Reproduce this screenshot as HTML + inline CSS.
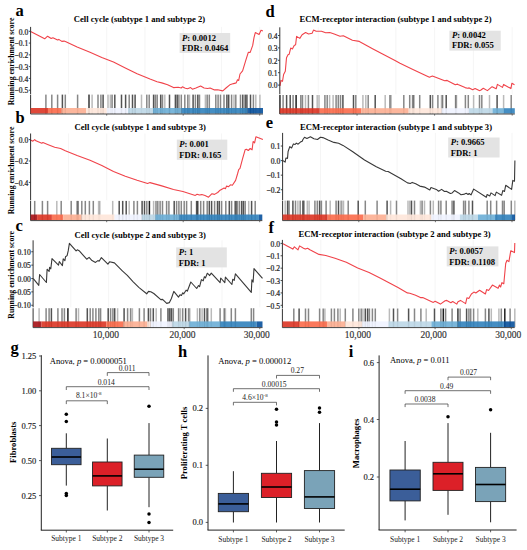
<!DOCTYPE html>
<html><head><meta charset="utf-8"><style>
html,body{margin:0;padding:0;background:#fff;}
svg{display:block;font-family:"Liberation Serif", serif;}
</style></head><body>
<svg width="527" height="550" viewBox="0 0 527 550">
<rect width="527" height="550" fill="#fff"/>
<text x="15.50" y="16.30" font-size="16.5" font-weight="bold" text-anchor="start" fill="#000">a</text>
<text x="139.50" y="21.60" font-size="8.6" font-weight="bold" text-anchor="middle" fill="#000">Cell cycle (subtype 1 and subtype 2)</text>
<line x1="68.45" y1="26.90" x2="68.45" y2="94.00" stroke="#EBEBEB" stroke-width="0.5"/>
<line x1="106.70" y1="26.90" x2="106.70" y2="94.00" stroke="#EBEBEB" stroke-width="0.5"/>
<line x1="144.95" y1="26.90" x2="144.95" y2="94.00" stroke="#EBEBEB" stroke-width="0.5"/>
<line x1="183.20" y1="26.90" x2="183.20" y2="94.00" stroke="#EBEBEB" stroke-width="0.5"/>
<line x1="221.45" y1="26.90" x2="221.45" y2="94.00" stroke="#EBEBEB" stroke-width="0.5"/>
<line x1="259.70" y1="26.90" x2="259.70" y2="94.00" stroke="#EBEBEB" stroke-width="0.5"/>
<rect x="179.60" y="33.00" width="50.60" height="19.90" fill="#E3E3E3"/>
<text x="182.10" y="40.90" font-size="8.6" font-weight="bold" text-anchor="start" fill="#000"><tspan font-style="italic">P</tspan>: 0.0012</text>
<text x="182.10" y="51.00" font-size="8.6" font-weight="bold" text-anchor="start" fill="#000">FDR: 0.0464</text>
<polyline points="30.60,31.50 44.70,38.80 47.60,36.20 51.20,38.50 52.90,37.80 57.60,39.90 58.80,39.40 61.80,41.40 64.10,41.10 65.90,41.70 77.10,47.00 90.00,52.30 101.80,57.40 113.50,62.10 125.30,67.90 137.10,73.80 150.00,79.10 157.10,81.80 161.80,82.90 167.60,84.70 173.50,87.60 178.20,87.30 181.20,88.00 182.40,86.80 185.30,88.20 187.60,88.80 190.60,87.60 192.40,89.20 195.90,88.00 200.60,86.10 204.10,88.00 207.60,88.50 210.10,88.00 214.50,89.90 217.70,89.70 222.80,90.90 226.00,88.00 229.80,84.80 233.60,83.60 236.20,82.90 237.50,79.70 238.70,80.40 240.00,74.00 242.60,70.80 245.70,60.60 248.30,52.40 250.20,52.40 252.70,45.40 254.00,37.70 255.30,32.60 259.10,34.50 261.00,30.30 262.90,31.10" fill="none" stroke="#F0434A" stroke-width="1.1" stroke-linejoin="round"/>
<line x1="30.60" y1="26.90" x2="30.60" y2="94.00" stroke="#333" stroke-width="1"/>
<line x1="30.60" y1="94.60" x2="30.60" y2="114.00" stroke="#333" stroke-width="1"/>
<line x1="28.80" y1="31.30" x2="30.60" y2="31.30" stroke="#333" stroke-width="0.9"/>
<text x="28.30" y="34.50" font-size="7.6" text-anchor="end" fill="#262626" stroke="#262626" stroke-width="0.22">0.0</text>
<line x1="28.80" y1="43.08" x2="30.60" y2="43.08" stroke="#333" stroke-width="0.9"/>
<text x="28.30" y="46.28" font-size="7.6" text-anchor="end" fill="#262626" stroke="#262626" stroke-width="0.22">−0.1</text>
<line x1="28.80" y1="54.86" x2="30.60" y2="54.86" stroke="#333" stroke-width="0.9"/>
<text x="28.30" y="58.06" font-size="7.6" text-anchor="end" fill="#262626" stroke="#262626" stroke-width="0.22">−0.2</text>
<line x1="28.80" y1="66.64" x2="30.60" y2="66.64" stroke="#333" stroke-width="0.9"/>
<text x="28.30" y="69.84" font-size="7.6" text-anchor="end" fill="#262626" stroke="#262626" stroke-width="0.22">−0.3</text>
<line x1="28.80" y1="78.42" x2="30.60" y2="78.42" stroke="#333" stroke-width="0.9"/>
<text x="28.30" y="81.62" font-size="7.6" text-anchor="end" fill="#262626" stroke="#262626" stroke-width="0.22">−0.4</text>
<line x1="28.80" y1="90.20" x2="30.60" y2="90.20" stroke="#333" stroke-width="0.9"/>
<text x="28.30" y="93.40" font-size="7.6" text-anchor="end" fill="#262626" stroke="#262626" stroke-width="0.22">−0.5</text>
<rect x="45.15" y="94.60" width="1.5" height="19.00" fill="#000" fill-opacity="0.47"/>
<rect x="51.05" y="94.60" width="1.5" height="19.00" fill="#000" fill-opacity="0.47"/>
<rect x="56.85" y="94.60" width="1.5" height="19.00" fill="#000" fill-opacity="0.47"/>
<rect x="61.65" y="94.60" width="1.5" height="19.00" fill="#000" fill-opacity="0.68"/>
<rect x="64.55" y="94.60" width="1.5" height="19.00" fill="#000" fill-opacity="0.47"/>
<rect x="76.85" y="94.60" width="1.5" height="19.00" fill="#000" fill-opacity="0.47"/>
<rect x="88.05" y="94.60" width="1.5" height="19.00" fill="#000" fill-opacity="0.47"/>
<rect x="88.45" y="94.60" width="1.5" height="19.00" fill="#000" fill-opacity="0.47"/>
<rect x="91.35" y="94.60" width="1.5" height="19.00" fill="#000" fill-opacity="0.27"/>
<rect x="97.25" y="94.60" width="1.5" height="19.00" fill="#000" fill-opacity="0.47"/>
<rect x="100.15" y="94.60" width="1.5" height="19.00" fill="#000" fill-opacity="0.47"/>
<rect x="102.35" y="94.60" width="1.5" height="19.00" fill="#000" fill-opacity="0.68"/>
<rect x="107.25" y="94.60" width="1.5" height="19.00" fill="#000" fill-opacity="0.27"/>
<rect x="109.65" y="94.60" width="1.5" height="19.00" fill="#000" fill-opacity="0.27"/>
<rect x="111.35" y="94.60" width="1.5" height="19.00" fill="#000" fill-opacity="0.47"/>
<rect x="114.05" y="94.60" width="1.5" height="19.00" fill="#000" fill-opacity="0.68"/>
<rect x="120.75" y="94.60" width="1.5" height="19.00" fill="#000" fill-opacity="0.68"/>
<rect x="124.85" y="94.60" width="1.5" height="19.00" fill="#000" fill-opacity="0.68"/>
<rect x="128.45" y="94.60" width="1.5" height="19.00" fill="#000" fill-opacity="0.47"/>
<rect x="131.75" y="94.60" width="1.5" height="19.00" fill="#000" fill-opacity="0.68"/>
<rect x="134.35" y="94.60" width="1.5" height="19.00" fill="#000" fill-opacity="0.68"/>
<rect x="140.75" y="94.60" width="1.5" height="19.00" fill="#000" fill-opacity="0.27"/>
<rect x="146.05" y="94.60" width="1.5" height="19.00" fill="#000" fill-opacity="0.47"/>
<rect x="148.45" y="94.60" width="1.5" height="19.00" fill="#000" fill-opacity="0.47"/>
<rect x="152.85" y="94.60" width="1.5" height="19.00" fill="#000" fill-opacity="0.68"/>
<rect x="154.65" y="94.60" width="1.5" height="19.00" fill="#000" fill-opacity="0.47"/>
<rect x="156.45" y="94.60" width="1.5" height="19.00" fill="#000" fill-opacity="0.47"/>
<rect x="159.95" y="94.60" width="1.5" height="19.00" fill="#000" fill-opacity="0.68"/>
<rect x="161.75" y="94.60" width="1.5" height="19.00" fill="#000" fill-opacity="0.47"/>
<rect x="164.05" y="94.60" width="1.5" height="19.00" fill="#000" fill-opacity="0.27"/>
<rect x="168.75" y="94.60" width="1.5" height="19.00" fill="#000" fill-opacity="0.68"/>
<rect x="174.65" y="94.60" width="1.5" height="19.00" fill="#000" fill-opacity="0.68"/>
<rect x="176.45" y="94.60" width="1.5" height="19.00" fill="#000" fill-opacity="0.68"/>
<rect x="178.15" y="94.60" width="1.5" height="19.00" fill="#000" fill-opacity="0.47"/>
<rect x="180.55" y="94.60" width="1.5" height="19.00" fill="#000" fill-opacity="0.47"/>
<rect x="184.05" y="94.60" width="1.5" height="19.00" fill="#000" fill-opacity="0.47"/>
<rect x="187.05" y="94.60" width="1.5" height="19.00" fill="#000" fill-opacity="0.47"/>
<rect x="188.75" y="94.60" width="1.5" height="19.00" fill="#000" fill-opacity="0.27"/>
<rect x="192.35" y="94.60" width="1.5" height="19.00" fill="#000" fill-opacity="0.68"/>
<rect x="194.65" y="94.60" width="1.5" height="19.00" fill="#000" fill-opacity="0.47"/>
<rect x="197.05" y="94.60" width="1.5" height="19.00" fill="#000" fill-opacity="0.68"/>
<rect x="198.75" y="94.60" width="1.5" height="19.00" fill="#000" fill-opacity="0.47"/>
<rect x="204.65" y="94.60" width="1.5" height="19.00" fill="#000" fill-opacity="0.27"/>
<rect x="206.45" y="94.60" width="1.5" height="19.00" fill="#000" fill-opacity="0.47"/>
<rect x="208.55" y="94.60" width="1.5" height="19.00" fill="#000" fill-opacity="0.47"/>
<rect x="215.05" y="94.60" width="1.5" height="19.00" fill="#000" fill-opacity="0.47"/>
<rect x="217.35" y="94.60" width="1.5" height="19.00" fill="#000" fill-opacity="0.47"/>
<rect x="219.75" y="94.60" width="1.5" height="19.00" fill="#000" fill-opacity="0.47"/>
<rect x="223.25" y="94.60" width="1.5" height="19.00" fill="#000" fill-opacity="0.47"/>
<rect x="226.15" y="94.60" width="1.5" height="19.00" fill="#000" fill-opacity="0.68"/>
<rect x="227.95" y="94.60" width="1.5" height="19.00" fill="#000" fill-opacity="0.68"/>
<rect x="230.85" y="94.60" width="1.5" height="19.00" fill="#000" fill-opacity="0.47"/>
<rect x="233.25" y="94.60" width="1.5" height="19.00" fill="#000" fill-opacity="0.27"/>
<rect x="235.05" y="94.60" width="1.5" height="19.00" fill="#000" fill-opacity="0.47"/>
<rect x="239.75" y="94.60" width="1.5" height="19.00" fill="#000" fill-opacity="0.47"/>
<rect x="242.05" y="94.60" width="1.5" height="19.00" fill="#000" fill-opacity="0.68"/>
<rect x="244.45" y="94.60" width="1.5" height="19.00" fill="#000" fill-opacity="0.68"/>
<rect x="246.15" y="94.60" width="1.5" height="19.00" fill="#000" fill-opacity="0.68"/>
<rect x="249.75" y="94.60" width="1.5" height="19.00" fill="#000" fill-opacity="0.68"/>
<rect x="252.65" y="94.60" width="1.5" height="19.00" fill="#000" fill-opacity="0.47"/>
<rect x="255.05" y="94.60" width="1.5" height="19.00" fill="#000" fill-opacity="0.27"/>
<rect x="259.15" y="94.60" width="1.5" height="19.00" fill="#000" fill-opacity="0.27"/>
<rect x="30.60" y="108.00" width="17.40" height="5.60" fill="#DC3424" fill-opacity="0.9"/>
<rect x="48.00" y="108.00" width="13.70" height="5.60" fill="#FB6A4A" fill-opacity="0.9"/>
<rect x="61.70" y="108.00" width="24.30" height="5.60" fill="#FCAE91" fill-opacity="0.9"/>
<rect x="86.00" y="108.00" width="20.80" height="5.60" fill="#FEE5D9" fill-opacity="0.9"/>
<rect x="106.80" y="108.00" width="21.20" height="5.60" fill="#EFF3FF" fill-opacity="0.9"/>
<rect x="128.00" y="108.00" width="25.00" height="5.60" fill="#BDD7E7" fill-opacity="0.9"/>
<rect x="153.00" y="108.00" width="28.40" height="5.60" fill="#6BAED6" fill-opacity="0.9"/>
<rect x="181.40" y="108.00" width="66.10" height="5.60" fill="#3182BD" fill-opacity="0.9"/>
<rect x="247.50" y="108.00" width="15.50" height="5.60" fill="#08519C" fill-opacity="0.9"/>
<line x1="30.60" y1="114.00" x2="263.00" y2="114.00" stroke="#444" stroke-width="1"/>
<line x1="106.70" y1="114.00" x2="106.70" y2="115.60" stroke="#4D4D4D" stroke-width="0.8"/>
<line x1="183.20" y1="114.00" x2="183.20" y2="115.60" stroke="#4D4D4D" stroke-width="0.8"/>
<line x1="259.70" y1="114.00" x2="259.70" y2="115.60" stroke="#4D4D4D" stroke-width="0.8"/>
<text x="13.60" y="61.50" font-size="7.75" font-weight="bold" text-anchor="middle" fill="#000" transform="rotate(-90 13.6 61.5)">Running enrichment score</text>
<text x="15.50" y="123.00" font-size="16.5" font-weight="bold" text-anchor="start" fill="#000">b</text>
<text x="140.20" y="130.40" font-size="8.6" font-weight="bold" text-anchor="middle" fill="#000">Cell cycle (subtype 1 and subtype 3)</text>
<line x1="68.45" y1="133.50" x2="68.45" y2="200.30" stroke="#EBEBEB" stroke-width="0.5"/>
<line x1="106.70" y1="133.50" x2="106.70" y2="200.30" stroke="#EBEBEB" stroke-width="0.5"/>
<line x1="144.95" y1="133.50" x2="144.95" y2="200.30" stroke="#EBEBEB" stroke-width="0.5"/>
<line x1="183.20" y1="133.50" x2="183.20" y2="200.30" stroke="#EBEBEB" stroke-width="0.5"/>
<line x1="221.45" y1="133.50" x2="221.45" y2="200.30" stroke="#EBEBEB" stroke-width="0.5"/>
<line x1="259.70" y1="133.50" x2="259.70" y2="200.30" stroke="#EBEBEB" stroke-width="0.5"/>
<rect x="176.80" y="139.60" width="50.50" height="20.20" fill="#E3E3E3"/>
<text x="179.30" y="147.40" font-size="8.6" font-weight="bold" text-anchor="start" fill="#000"><tspan font-style="italic">P</tspan>: 0.001</text>
<text x="179.30" y="157.50" font-size="8.6" font-weight="bold" text-anchor="start" fill="#000">FDR: 0.165</text>
<polyline points="30.60,140.00 32.90,141.20 34.70,139.60 35.90,140.80 41.80,143.20 42.90,142.60 47.60,144.40 54.70,147.30 60.60,148.50 65.30,150.80 77.10,155.50 90.00,160.30 101.80,165.60 113.50,171.50 125.30,176.20 137.10,180.30 147.60,183.50 150.00,182.60 161.80,185.90 173.50,189.50 182.90,191.50 195.30,195.40 197.10,194.20 199.40,195.00 201.80,194.60 205.00,195.60 208.50,197.20 212.00,193.70 214.50,194.40 217.70,192.50 219.60,190.60 224.10,188.00 225.40,188.70 226.60,186.10 228.60,186.70 230.50,184.80 232.40,185.20 235.60,180.40 237.50,174.00 238.70,169.60 240.00,168.30 242.60,158.70 245.10,149.80 246.40,149.20 248.30,150.50 250.20,148.50 252.10,149.80 253.10,141.50 254.60,142.80 255.90,136.80 262.90,139.60" fill="none" stroke="#F0434A" stroke-width="1.1" stroke-linejoin="round"/>
<line x1="30.60" y1="133.50" x2="30.60" y2="200.30" stroke="#333" stroke-width="1"/>
<line x1="30.60" y1="200.90" x2="30.60" y2="220.60" stroke="#333" stroke-width="1"/>
<line x1="28.80" y1="139.60" x2="30.60" y2="139.60" stroke="#333" stroke-width="0.9"/>
<text x="28.30" y="142.80" font-size="7.6" text-anchor="end" fill="#262626" stroke="#262626" stroke-width="0.22">0.0</text>
<line x1="28.80" y1="161.00" x2="30.60" y2="161.00" stroke="#333" stroke-width="0.9"/>
<text x="28.30" y="164.20" font-size="7.6" text-anchor="end" fill="#262626" stroke="#262626" stroke-width="0.22">−0.2</text>
<line x1="28.80" y1="182.40" x2="30.60" y2="182.40" stroke="#333" stroke-width="0.9"/>
<text x="28.30" y="185.60" font-size="7.6" text-anchor="end" fill="#262626" stroke="#262626" stroke-width="0.22">−0.4</text>
<rect x="33.95" y="200.90" width="1.5" height="19.30" fill="#000" fill-opacity="0.47"/>
<rect x="41.65" y="200.90" width="1.5" height="19.30" fill="#000" fill-opacity="0.47"/>
<rect x="46.85" y="200.90" width="1.5" height="19.30" fill="#000" fill-opacity="0.47"/>
<rect x="56.05" y="200.90" width="1.5" height="19.30" fill="#000" fill-opacity="0.27"/>
<rect x="60.45" y="200.90" width="1.5" height="19.30" fill="#000" fill-opacity="0.47"/>
<rect x="70.45" y="200.90" width="1.5" height="19.30" fill="#000" fill-opacity="0.47"/>
<rect x="76.35" y="200.90" width="1.5" height="19.30" fill="#000" fill-opacity="0.47"/>
<rect x="77.45" y="200.90" width="1.5" height="19.30" fill="#000" fill-opacity="0.47"/>
<rect x="81.05" y="200.90" width="1.5" height="19.30" fill="#000" fill-opacity="0.47"/>
<rect x="84.55" y="200.90" width="1.5" height="19.30" fill="#000" fill-opacity="0.47"/>
<rect x="88.65" y="200.90" width="1.5" height="19.30" fill="#000" fill-opacity="0.47"/>
<rect x="92.55" y="200.90" width="1.5" height="19.30" fill="#000" fill-opacity="0.47"/>
<rect x="97.85" y="200.90" width="1.5" height="19.30" fill="#000" fill-opacity="0.27"/>
<rect x="99.05" y="200.90" width="1.5" height="19.30" fill="#000" fill-opacity="0.27"/>
<rect x="111.95" y="200.90" width="1.5" height="19.30" fill="#000" fill-opacity="0.27"/>
<rect x="118.45" y="200.90" width="1.5" height="19.30" fill="#000" fill-opacity="0.68"/>
<rect x="121.95" y="200.90" width="1.5" height="19.30" fill="#000" fill-opacity="0.68"/>
<rect x="125.45" y="200.90" width="1.5" height="19.30" fill="#000" fill-opacity="0.68"/>
<rect x="128.45" y="200.90" width="1.5" height="19.30" fill="#000" fill-opacity="0.27"/>
<rect x="133.15" y="200.90" width="1.5" height="19.30" fill="#000" fill-opacity="0.47"/>
<rect x="136.65" y="200.90" width="1.5" height="19.30" fill="#000" fill-opacity="0.47"/>
<rect x="141.35" y="200.90" width="1.5" height="19.30" fill="#000" fill-opacity="0.68"/>
<rect x="143.75" y="200.90" width="1.5" height="19.30" fill="#000" fill-opacity="0.68"/>
<rect x="146.05" y="200.90" width="1.5" height="19.30" fill="#000" fill-opacity="0.47"/>
<rect x="148.65" y="200.90" width="1.5" height="19.30" fill="#000" fill-opacity="0.88"/>
<rect x="152.85" y="200.90" width="1.5" height="19.30" fill="#000" fill-opacity="0.27"/>
<rect x="155.25" y="200.90" width="1.5" height="19.30" fill="#000" fill-opacity="0.47"/>
<rect x="157.05" y="200.90" width="1.5" height="19.30" fill="#000" fill-opacity="0.47"/>
<rect x="159.35" y="200.90" width="1.5" height="19.30" fill="#000" fill-opacity="0.47"/>
<rect x="161.75" y="200.90" width="1.5" height="19.30" fill="#000" fill-opacity="0.47"/>
<rect x="165.85" y="200.90" width="1.5" height="19.30" fill="#000" fill-opacity="0.47"/>
<rect x="168.15" y="200.90" width="1.5" height="19.30" fill="#000" fill-opacity="0.47"/>
<rect x="173.45" y="200.90" width="1.5" height="19.30" fill="#000" fill-opacity="0.68"/>
<rect x="175.85" y="200.90" width="1.5" height="19.30" fill="#000" fill-opacity="0.47"/>
<rect x="178.15" y="200.90" width="1.5" height="19.30" fill="#000" fill-opacity="0.47"/>
<rect x="180.55" y="200.90" width="1.5" height="19.30" fill="#000" fill-opacity="0.47"/>
<rect x="183.45" y="200.90" width="1.5" height="19.30" fill="#000" fill-opacity="0.47"/>
<rect x="185.85" y="200.90" width="1.5" height="19.30" fill="#000" fill-opacity="0.47"/>
<rect x="190.55" y="200.90" width="1.5" height="19.30" fill="#000" fill-opacity="0.47"/>
<rect x="195.85" y="200.90" width="1.5" height="19.30" fill="#000" fill-opacity="0.68"/>
<rect x="197.05" y="200.90" width="1.5" height="19.30" fill="#000" fill-opacity="0.68"/>
<rect x="199.95" y="200.90" width="1.5" height="19.30" fill="#000" fill-opacity="0.47"/>
<rect x="202.85" y="200.90" width="1.5" height="19.30" fill="#000" fill-opacity="0.47"/>
<rect x="206.45" y="200.90" width="1.5" height="19.30" fill="#000" fill-opacity="0.47"/>
<rect x="208.55" y="200.90" width="1.5" height="19.30" fill="#000" fill-opacity="0.68"/>
<rect x="210.85" y="200.90" width="1.5" height="19.30" fill="#000" fill-opacity="0.68"/>
<rect x="213.85" y="200.90" width="1.5" height="19.30" fill="#000" fill-opacity="0.47"/>
<rect x="216.75" y="200.90" width="1.5" height="19.30" fill="#000" fill-opacity="0.68"/>
<rect x="218.55" y="200.90" width="1.5" height="19.30" fill="#000" fill-opacity="0.68"/>
<rect x="220.85" y="200.90" width="1.5" height="19.30" fill="#000" fill-opacity="0.47"/>
<rect x="225.05" y="200.90" width="1.5" height="19.30" fill="#000" fill-opacity="0.47"/>
<rect x="228.55" y="200.90" width="1.5" height="19.30" fill="#000" fill-opacity="0.68"/>
<rect x="230.85" y="200.90" width="1.5" height="19.30" fill="#000" fill-opacity="0.47"/>
<rect x="234.45" y="200.90" width="1.5" height="19.30" fill="#000" fill-opacity="0.68"/>
<rect x="236.15" y="200.90" width="1.5" height="19.30" fill="#000" fill-opacity="0.68"/>
<rect x="238.55" y="200.90" width="1.5" height="19.30" fill="#000" fill-opacity="0.47"/>
<rect x="240.85" y="200.90" width="1.5" height="19.30" fill="#000" fill-opacity="0.68"/>
<rect x="242.65" y="200.90" width="1.5" height="19.30" fill="#000" fill-opacity="0.68"/>
<rect x="244.45" y="200.90" width="1.5" height="19.30" fill="#000" fill-opacity="0.47"/>
<rect x="247.95" y="200.90" width="1.5" height="19.30" fill="#000" fill-opacity="0.27"/>
<rect x="250.85" y="200.90" width="1.5" height="19.30" fill="#000" fill-opacity="0.68"/>
<rect x="254.45" y="200.90" width="1.5" height="19.30" fill="#000" fill-opacity="0.47"/>
<rect x="30.60" y="214.50" width="6.50" height="5.70" fill="#A50F15" fill-opacity="0.9"/>
<rect x="37.10" y="214.50" width="14.80" height="5.70" fill="#DC3424" fill-opacity="0.9"/>
<rect x="51.90" y="214.50" width="11.40" height="5.70" fill="#FB6A4A" fill-opacity="0.9"/>
<rect x="63.30" y="214.50" width="18.20" height="5.70" fill="#FCAE91" fill-opacity="0.9"/>
<rect x="81.50" y="214.50" width="33.10" height="5.70" fill="#FEE5D9" fill-opacity="0.9"/>
<rect x="114.60" y="214.50" width="27.30" height="5.70" fill="#EFF3FF" fill-opacity="0.9"/>
<rect x="141.90" y="214.50" width="13.40" height="5.70" fill="#BDD7E7" fill-opacity="0.9"/>
<rect x="155.30" y="214.50" width="23.90" height="5.70" fill="#6BAED6" fill-opacity="0.9"/>
<rect x="179.20" y="214.50" width="79.70" height="5.70" fill="#3182BD" fill-opacity="0.9"/>
<rect x="258.90" y="214.50" width="3.40" height="5.70" fill="#08519C" fill-opacity="0.9"/>
<line x1="30.60" y1="220.60" x2="262.30" y2="220.60" stroke="#444" stroke-width="1"/>
<line x1="106.70" y1="220.60" x2="106.70" y2="222.20" stroke="#4D4D4D" stroke-width="0.8"/>
<line x1="183.20" y1="220.60" x2="183.20" y2="222.20" stroke="#4D4D4D" stroke-width="0.8"/>
<line x1="259.70" y1="220.60" x2="259.70" y2="222.20" stroke="#4D4D4D" stroke-width="0.8"/>
<text x="13.60" y="170.50" font-size="7.75" font-weight="bold" text-anchor="middle" fill="#000" transform="rotate(-90 13.6 170.5)">Running enrichment score</text>
<text x="15.50" y="231.10" font-size="16.5" font-weight="bold" text-anchor="start" fill="#000">c</text>
<text x="140.20" y="238.00" font-size="8.6" font-weight="bold" text-anchor="middle" fill="#000">Cell cycle (subtype 2 and subtype 3)</text>
<line x1="70.80" y1="240.30" x2="70.80" y2="307.30" stroke="#EBEBEB" stroke-width="0.5"/>
<line x1="108.60" y1="240.30" x2="108.60" y2="307.30" stroke="#EBEBEB" stroke-width="0.5"/>
<line x1="146.40" y1="240.30" x2="146.40" y2="307.30" stroke="#EBEBEB" stroke-width="0.5"/>
<line x1="184.20" y1="240.30" x2="184.20" y2="307.30" stroke="#EBEBEB" stroke-width="0.5"/>
<line x1="222.00" y1="240.30" x2="222.00" y2="307.30" stroke="#EBEBEB" stroke-width="0.5"/>
<line x1="259.80" y1="240.30" x2="259.80" y2="307.30" stroke="#EBEBEB" stroke-width="0.5"/>
<rect x="176.20" y="247.40" width="50.60" height="20.00" fill="#E3E3E3"/>
<text x="178.70" y="255.00" font-size="8.6" font-weight="bold" text-anchor="start" fill="#000"><tspan font-style="italic">P</tspan>: 1</text>
<text x="178.70" y="265.80" font-size="8.6" font-weight="bold" text-anchor="start" fill="#000">FDR: 1</text>
<polyline points="33.30,278.60 38.80,285.30 39.60,274.50 46.40,282.50 47.10,269.20 49.10,271.50 49.60,267.40 50.80,268.80 52.00,258.60 58.50,265.10 59.30,261.50 62.40,265.60 63.20,258.90 64.90,260.60 65.50,256.80 67.10,255.60 68.20,250.90 69.40,243.30 76.10,250.90 77.30,249.80 79.10,250.70 86.70,259.20 89.10,257.40 92.00,260.60 95.50,262.40 97.90,260.60 99.10,261.20 101.40,257.60 107.90,264.10 109.60,261.80 114.40,262.90 122.60,271.20 127.30,275.30 133.20,281.80 139.10,287.60 146.70,293.80 148.50,291.40 150.80,291.80 153.80,293.50 160.80,299.60 162.60,299.40 166.70,303.40 169.40,302.60 171.40,298.50 173.80,291.40 178.50,297.10 180.00,294.70 181.40,295.50 182.80,292.80 183.80,293.80 186.10,290.20 187.30,291.20 190.80,282.00 196.70,288.50 198.50,285.50 199.60,286.70 201.40,279.60 203.20,280.80 204.40,276.70 205.50,277.90 207.30,273.20 209.10,274.90 209.50,275.60 211.30,273.10 220.10,282.70 220.70,278.00 224.80,282.70 225.40,277.10 231.90,284.50 232.80,279.20 234.20,280.40 235.40,273.90 251.30,292.40 251.90,279.80 253.10,282.10 254.00,268.60 262.50,278.40" fill="none" stroke="#383838" stroke-width="1.1" stroke-linejoin="round"/>
<line x1="33.10" y1="240.30" x2="33.10" y2="307.30" stroke="#333" stroke-width="1"/>
<line x1="33.10" y1="308.20" x2="33.10" y2="327.60" stroke="#333" stroke-width="1"/>
<line x1="31.30" y1="251.75" x2="33.10" y2="251.75" stroke="#333" stroke-width="0.9"/>
<text x="30.80" y="254.95" font-size="7.6" text-anchor="end" fill="#262626" stroke="#262626" stroke-width="0.22">0.10</text>
<line x1="31.30" y1="265.12" x2="33.10" y2="265.12" stroke="#333" stroke-width="0.9"/>
<text x="30.80" y="268.32" font-size="7.6" text-anchor="end" fill="#262626" stroke="#262626" stroke-width="0.22">0.05</text>
<line x1="31.30" y1="278.50" x2="33.10" y2="278.50" stroke="#333" stroke-width="0.9"/>
<text x="30.80" y="281.70" font-size="7.6" text-anchor="end" fill="#262626" stroke="#262626" stroke-width="0.22">0.00</text>
<line x1="31.30" y1="291.88" x2="33.10" y2="291.88" stroke="#333" stroke-width="0.9"/>
<text x="30.80" y="295.07" font-size="7.6" text-anchor="end" fill="#262626" stroke="#262626" stroke-width="0.22">−0.05</text>
<line x1="31.30" y1="305.25" x2="33.10" y2="305.25" stroke="#333" stroke-width="0.9"/>
<text x="30.80" y="308.45" font-size="7.6" text-anchor="end" fill="#262626" stroke="#262626" stroke-width="0.22">−0.10</text>
<rect x="38.35" y="308.20" width="1.5" height="19.00" fill="#000" fill-opacity="0.27"/>
<rect x="45.35" y="308.20" width="1.5" height="19.00" fill="#000" fill-opacity="0.47"/>
<rect x="48.35" y="308.20" width="1.5" height="19.00" fill="#000" fill-opacity="0.47"/>
<rect x="50.65" y="308.20" width="1.5" height="19.00" fill="#000" fill-opacity="0.68"/>
<rect x="57.15" y="308.20" width="1.5" height="19.00" fill="#000" fill-opacity="0.47"/>
<rect x="61.25" y="308.20" width="1.5" height="19.00" fill="#000" fill-opacity="0.47"/>
<rect x="63.65" y="308.20" width="1.5" height="19.00" fill="#000" fill-opacity="0.47"/>
<rect x="67.15" y="308.20" width="1.5" height="19.00" fill="#000" fill-opacity="0.88"/>
<rect x="75.35" y="308.20" width="1.5" height="19.00" fill="#000" fill-opacity="0.47"/>
<rect x="77.75" y="308.20" width="1.5" height="19.00" fill="#000" fill-opacity="0.27"/>
<rect x="86.55" y="308.20" width="1.5" height="19.00" fill="#000" fill-opacity="0.68"/>
<rect x="89.45" y="308.20" width="1.5" height="19.00" fill="#000" fill-opacity="0.47"/>
<rect x="92.15" y="308.20" width="1.5" height="19.00" fill="#000" fill-opacity="0.47"/>
<rect x="95.15" y="308.20" width="1.5" height="19.00" fill="#000" fill-opacity="0.47"/>
<rect x="98.05" y="308.20" width="1.5" height="19.00" fill="#000" fill-opacity="0.47"/>
<rect x="99.85" y="308.20" width="1.5" height="19.00" fill="#000" fill-opacity="0.47"/>
<rect x="107.45" y="308.20" width="1.5" height="19.00" fill="#000" fill-opacity="0.68"/>
<rect x="109.85" y="308.20" width="1.5" height="19.00" fill="#000" fill-opacity="0.47"/>
<rect x="112.15" y="308.20" width="1.5" height="19.00" fill="#000" fill-opacity="0.47"/>
<rect x="113.95" y="308.20" width="1.5" height="19.00" fill="#000" fill-opacity="0.68"/>
<rect x="116.85" y="308.20" width="1.5" height="19.00" fill="#000" fill-opacity="0.27"/>
<rect x="123.35" y="308.20" width="1.5" height="19.00" fill="#000" fill-opacity="0.68"/>
<rect x="126.85" y="308.20" width="1.5" height="19.00" fill="#000" fill-opacity="0.47"/>
<rect x="129.85" y="308.20" width="1.5" height="19.00" fill="#000" fill-opacity="0.47"/>
<rect x="131.65" y="308.20" width="1.5" height="19.00" fill="#000" fill-opacity="0.27"/>
<rect x="138.65" y="308.20" width="1.5" height="19.00" fill="#000" fill-opacity="0.47"/>
<rect x="143.35" y="308.20" width="1.5" height="19.00" fill="#000" fill-opacity="0.47"/>
<rect x="147.65" y="308.20" width="1.5" height="19.00" fill="#000" fill-opacity="0.68"/>
<rect x="149.75" y="308.20" width="1.5" height="19.00" fill="#000" fill-opacity="0.47"/>
<rect x="152.55" y="308.20" width="1.5" height="19.00" fill="#000" fill-opacity="0.68"/>
<rect x="155.45" y="308.20" width="1.5" height="19.00" fill="#000" fill-opacity="0.27"/>
<rect x="160.15" y="308.20" width="1.5" height="19.00" fill="#000" fill-opacity="0.47"/>
<rect x="167.25" y="308.20" width="1.5" height="19.00" fill="#000" fill-opacity="0.68"/>
<rect x="169.05" y="308.20" width="1.5" height="19.00" fill="#000" fill-opacity="0.68"/>
<rect x="170.75" y="308.20" width="1.5" height="19.00" fill="#000" fill-opacity="0.68"/>
<rect x="172.55" y="308.20" width="1.5" height="19.00" fill="#000" fill-opacity="0.47"/>
<rect x="177.85" y="308.20" width="1.5" height="19.00" fill="#000" fill-opacity="0.47"/>
<rect x="179.65" y="308.20" width="1.5" height="19.00" fill="#000" fill-opacity="0.27"/>
<rect x="181.95" y="308.20" width="1.5" height="19.00" fill="#000" fill-opacity="0.47"/>
<rect x="184.85" y="308.20" width="1.5" height="19.00" fill="#000" fill-opacity="0.68"/>
<rect x="187.85" y="308.20" width="1.5" height="19.00" fill="#000" fill-opacity="0.47"/>
<rect x="189.05" y="308.20" width="1.5" height="19.00" fill="#000" fill-opacity="0.27"/>
<rect x="196.65" y="308.20" width="1.5" height="19.00" fill="#000" fill-opacity="0.27"/>
<rect x="199.05" y="308.20" width="1.5" height="19.00" fill="#000" fill-opacity="0.47"/>
<rect x="201.35" y="308.20" width="1.5" height="19.00" fill="#000" fill-opacity="0.27"/>
<rect x="203.75" y="308.20" width="1.5" height="19.00" fill="#000" fill-opacity="0.68"/>
<rect x="206.05" y="308.20" width="1.5" height="19.00" fill="#000" fill-opacity="0.47"/>
<rect x="207.05" y="308.20" width="1.5" height="19.00" fill="#000" fill-opacity="0.47"/>
<rect x="210.55" y="308.20" width="1.5" height="19.00" fill="#000" fill-opacity="0.27"/>
<rect x="219.35" y="308.20" width="1.5" height="19.00" fill="#000" fill-opacity="0.47"/>
<rect x="223.45" y="308.20" width="1.5" height="19.00" fill="#000" fill-opacity="0.47"/>
<rect x="224.65" y="308.20" width="1.5" height="19.00" fill="#000" fill-opacity="0.27"/>
<rect x="230.55" y="308.20" width="1.5" height="19.00" fill="#000" fill-opacity="0.47"/>
<rect x="234.65" y="308.20" width="1.5" height="19.00" fill="#000" fill-opacity="0.47"/>
<rect x="250.55" y="308.20" width="1.5" height="19.00" fill="#000" fill-opacity="0.47"/>
<rect x="252.85" y="308.20" width="1.5" height="19.00" fill="#000" fill-opacity="0.47"/>
<rect x="33.10" y="321.40" width="8.30" height="5.80" fill="#A50F15" fill-opacity="0.9"/>
<rect x="41.40" y="321.40" width="64.90" height="5.80" fill="#DC3424" fill-opacity="0.9"/>
<rect x="106.30" y="321.40" width="17.10" height="5.80" fill="#FB6A4A" fill-opacity="0.9"/>
<rect x="123.40" y="321.40" width="23.90" height="5.80" fill="#FCAE91" fill-opacity="0.9"/>
<rect x="147.30" y="321.40" width="3.40" height="5.80" fill="#FEE5D9" fill-opacity="0.9"/>
<rect x="150.70" y="321.40" width="21.60" height="5.80" fill="#EFF3FF" fill-opacity="0.9"/>
<rect x="172.30" y="321.40" width="17.10" height="5.80" fill="#BDD7E7" fill-opacity="0.9"/>
<rect x="189.40" y="321.40" width="30.80" height="5.80" fill="#6BAED6" fill-opacity="0.9"/>
<rect x="220.20" y="321.40" width="36.40" height="5.80" fill="#3182BD" fill-opacity="0.9"/>
<rect x="256.60" y="321.40" width="5.90" height="5.80" fill="#08519C" fill-opacity="0.9"/>
<line x1="33.10" y1="327.60" x2="262.50" y2="327.60" stroke="#444" stroke-width="1"/>
<line x1="108.60" y1="327.60" x2="108.60" y2="329.20" stroke="#4D4D4D" stroke-width="0.8"/>
<line x1="184.20" y1="327.60" x2="184.20" y2="329.20" stroke="#4D4D4D" stroke-width="0.8"/>
<line x1="259.80" y1="327.60" x2="259.80" y2="329.20" stroke="#4D4D4D" stroke-width="0.8"/>
<text x="105.90" y="338.30" font-size="9.5" text-anchor="middle" fill="#333" stroke="#333" stroke-width="0.15">10,000</text>
<text x="182.50" y="338.30" font-size="9.5" text-anchor="middle" fill="#333" stroke="#333" stroke-width="0.15">20,000</text>
<text x="256.80" y="338.30" font-size="9.5" text-anchor="middle" fill="#333" stroke="#333" stroke-width="0.15">30,000</text>
<text x="13.60" y="274.80" font-size="7.75" font-weight="bold" text-anchor="middle" fill="#000" transform="rotate(-90 13.6 274.8)">Running enrichment score</text>
<text x="265.50" y="17.30" font-size="16.5" font-weight="bold" text-anchor="start" fill="#000">d</text>
<text x="395.50" y="21.60" font-size="8.6" font-weight="bold" text-anchor="middle" fill="#000">ECM-receptor interaction (subtype 1 and subtype 2)</text>
<line x1="318.28" y1="27.30" x2="318.28" y2="94.30" stroke="#EBEBEB" stroke-width="0.5"/>
<line x1="357.06" y1="27.30" x2="357.06" y2="94.30" stroke="#EBEBEB" stroke-width="0.5"/>
<line x1="395.84" y1="27.30" x2="395.84" y2="94.30" stroke="#EBEBEB" stroke-width="0.5"/>
<line x1="434.62" y1="27.30" x2="434.62" y2="94.30" stroke="#EBEBEB" stroke-width="0.5"/>
<line x1="473.40" y1="27.30" x2="473.40" y2="94.30" stroke="#EBEBEB" stroke-width="0.5"/>
<line x1="512.18" y1="27.30" x2="512.18" y2="94.30" stroke="#EBEBEB" stroke-width="0.5"/>
<rect x="449.40" y="30.70" width="51.30" height="19.90" fill="#E3E3E3"/>
<text x="451.90" y="38.20" font-size="8.6" font-weight="bold" text-anchor="start" fill="#000"><tspan font-style="italic">P</tspan>: 0.0042</text>
<text x="451.90" y="48.40" font-size="8.6" font-weight="bold" text-anchor="start" fill="#000">FDR: 0.055</text>
<polyline points="280.10,85.80 280.90,80.40 282.50,81.30 283.60,74.50 285.30,71.30 286.50,57.80 288.00,54.80 289.20,54.20 290.70,48.10 292.40,48.90 294.20,45.40 295.60,44.80 296.60,36.40 299.80,38.40 302.10,34.80 305.60,32.50 308.60,34.00 312.10,33.30 313.50,30.10 316.20,31.30 321.50,31.30 325.60,32.80 329.80,32.50 334.20,34.10 340.00,36.20 343.30,35.70 352.40,40.30 359.30,41.40 373.00,48.90 395.00,60.60 400.00,63.20 412.90,69.40 429.40,77.30 432.40,76.10 444.70,80.80 447.10,80.40 455.30,84.70 457.60,84.10 458.00,84.40 465.10,87.60 467.40,88.20 469.20,87.90 472.70,89.80 475.10,88.60 479.20,90.60 480.60,90.20 483.30,88.20 487.40,90.60 492.10,86.70 496.20,88.80 497.40,84.40 502.50,87.40 503.60,84.40 510.90,88.60 511.90,83.20 514.50,84.70" fill="none" stroke="#F0434A" stroke-width="1.1" stroke-linejoin="round"/>
<line x1="279.80" y1="27.30" x2="279.80" y2="94.30" stroke="#333" stroke-width="1"/>
<line x1="279.80" y1="95.00" x2="279.80" y2="114.00" stroke="#333" stroke-width="1"/>
<line x1="278.00" y1="35.50" x2="279.80" y2="35.50" stroke="#333" stroke-width="0.9"/>
<text x="277.50" y="38.70" font-size="7.6" text-anchor="end" fill="#262626" stroke="#262626" stroke-width="0.22">0.4</text>
<line x1="278.00" y1="47.90" x2="279.80" y2="47.90" stroke="#333" stroke-width="0.9"/>
<text x="277.50" y="51.10" font-size="7.6" text-anchor="end" fill="#262626" stroke="#262626" stroke-width="0.22">0.3</text>
<line x1="278.00" y1="60.30" x2="279.80" y2="60.30" stroke="#333" stroke-width="0.9"/>
<text x="277.50" y="63.50" font-size="7.6" text-anchor="end" fill="#262626" stroke="#262626" stroke-width="0.22">0.2</text>
<line x1="278.00" y1="72.70" x2="279.80" y2="72.70" stroke="#333" stroke-width="0.9"/>
<text x="277.50" y="75.90" font-size="7.6" text-anchor="end" fill="#262626" stroke="#262626" stroke-width="0.22">0.1</text>
<line x1="278.00" y1="85.10" x2="279.80" y2="85.10" stroke="#333" stroke-width="0.9"/>
<text x="277.50" y="88.30" font-size="7.6" text-anchor="end" fill="#262626" stroke="#262626" stroke-width="0.22">0.0</text>
<rect x="279.45" y="95.00" width="1.5" height="18.60" fill="#000" fill-opacity="0.47"/>
<rect x="282.35" y="95.00" width="1.5" height="18.60" fill="#000" fill-opacity="0.47"/>
<rect x="285.85" y="95.00" width="1.5" height="18.60" fill="#000" fill-opacity="0.68"/>
<rect x="289.45" y="95.00" width="1.5" height="18.60" fill="#000" fill-opacity="0.68"/>
<rect x="292.35" y="95.00" width="1.5" height="18.60" fill="#000" fill-opacity="0.47"/>
<rect x="295.35" y="95.00" width="1.5" height="18.60" fill="#000" fill-opacity="0.88"/>
<rect x="300.05" y="95.00" width="1.5" height="18.60" fill="#000" fill-opacity="0.47"/>
<rect x="301.75" y="95.00" width="1.5" height="18.60" fill="#000" fill-opacity="0.47"/>
<rect x="304.75" y="95.00" width="1.5" height="18.60" fill="#000" fill-opacity="0.27"/>
<rect x="307.65" y="95.00" width="1.5" height="18.60" fill="#000" fill-opacity="0.47"/>
<rect x="311.75" y="95.00" width="1.5" height="18.60" fill="#000" fill-opacity="0.68"/>
<rect x="316.45" y="95.00" width="1.5" height="18.60" fill="#000" fill-opacity="0.27"/>
<rect x="318.25" y="95.00" width="1.5" height="18.60" fill="#000" fill-opacity="0.27"/>
<rect x="324.15" y="95.00" width="1.5" height="18.60" fill="#000" fill-opacity="0.47"/>
<rect x="326.45" y="95.00" width="1.5" height="18.60" fill="#000" fill-opacity="0.47"/>
<rect x="328.85" y="95.00" width="1.5" height="18.60" fill="#000" fill-opacity="0.27"/>
<rect x="332.35" y="95.00" width="1.5" height="18.60" fill="#000" fill-opacity="0.27"/>
<rect x="335.35" y="95.00" width="1.5" height="18.60" fill="#000" fill-opacity="0.47"/>
<rect x="337.55" y="95.00" width="1.5" height="18.60" fill="#000" fill-opacity="0.47"/>
<rect x="339.75" y="95.00" width="1.5" height="18.60" fill="#000" fill-opacity="0.47"/>
<rect x="342.15" y="95.00" width="1.5" height="18.60" fill="#000" fill-opacity="0.68"/>
<rect x="352.75" y="95.00" width="1.5" height="18.60" fill="#000" fill-opacity="0.68"/>
<rect x="355.05" y="95.00" width="1.5" height="18.60" fill="#000" fill-opacity="0.47"/>
<rect x="362.15" y="95.00" width="1.5" height="18.60" fill="#000" fill-opacity="0.27"/>
<rect x="365.05" y="95.00" width="1.5" height="18.60" fill="#000" fill-opacity="0.27"/>
<rect x="367.45" y="95.00" width="1.5" height="18.60" fill="#000" fill-opacity="0.47"/>
<rect x="374.45" y="95.00" width="1.5" height="18.60" fill="#000" fill-opacity="0.68"/>
<rect x="384.45" y="95.00" width="1.5" height="18.60" fill="#000" fill-opacity="0.27"/>
<rect x="389.15" y="95.00" width="1.5" height="18.60" fill="#000" fill-opacity="0.47"/>
<rect x="390.35" y="95.00" width="1.5" height="18.60" fill="#000" fill-opacity="0.27"/>
<rect x="403.05" y="95.00" width="1.5" height="18.60" fill="#000" fill-opacity="0.47"/>
<rect x="408.95" y="95.00" width="1.5" height="18.60" fill="#000" fill-opacity="0.47"/>
<rect x="411.85" y="95.00" width="1.5" height="18.60" fill="#000" fill-opacity="0.47"/>
<rect x="413.05" y="95.00" width="1.5" height="18.60" fill="#000" fill-opacity="0.47"/>
<rect x="418.95" y="95.00" width="1.5" height="18.60" fill="#000" fill-opacity="0.47"/>
<rect x="429.55" y="95.00" width="1.5" height="18.60" fill="#000" fill-opacity="0.68"/>
<rect x="431.85" y="95.00" width="1.5" height="18.60" fill="#000" fill-opacity="0.47"/>
<rect x="437.15" y="95.00" width="1.5" height="18.60" fill="#000" fill-opacity="0.47"/>
<rect x="440.75" y="95.00" width="1.5" height="18.60" fill="#000" fill-opacity="0.27"/>
<rect x="441.85" y="95.00" width="1.5" height="18.60" fill="#000" fill-opacity="0.47"/>
<rect x="445.45" y="95.00" width="1.5" height="18.60" fill="#000" fill-opacity="0.68"/>
<rect x="454.85" y="95.00" width="1.5" height="18.60" fill="#000" fill-opacity="0.47"/>
<rect x="455.75" y="95.00" width="1.5" height="18.60" fill="#000" fill-opacity="0.27"/>
<rect x="464.65" y="95.00" width="1.5" height="18.60" fill="#000" fill-opacity="0.47"/>
<rect x="467.55" y="95.00" width="1.5" height="18.60" fill="#000" fill-opacity="0.47"/>
<rect x="472.85" y="95.00" width="1.5" height="18.60" fill="#000" fill-opacity="0.27"/>
<rect x="478.75" y="95.00" width="1.5" height="18.60" fill="#000" fill-opacity="0.47"/>
<rect x="481.05" y="95.00" width="1.5" height="18.60" fill="#000" fill-opacity="0.47"/>
<rect x="488.75" y="95.00" width="1.5" height="18.60" fill="#000" fill-opacity="0.27"/>
<rect x="496.35" y="95.00" width="1.5" height="18.60" fill="#000" fill-opacity="0.68"/>
<rect x="502.85" y="95.00" width="1.5" height="18.60" fill="#000" fill-opacity="0.27"/>
<rect x="510.45" y="95.00" width="1.5" height="18.60" fill="#000" fill-opacity="0.47"/>
<rect x="279.80" y="108.20" width="39.90" height="5.40" fill="#DC3424" fill-opacity="0.9"/>
<rect x="319.70" y="108.20" width="41.70" height="5.40" fill="#FB6A4A" fill-opacity="0.9"/>
<rect x="361.40" y="108.20" width="47.30" height="5.40" fill="#FCAE91" fill-opacity="0.9"/>
<rect x="408.70" y="108.20" width="33.00" height="5.40" fill="#FEE5D9" fill-opacity="0.9"/>
<rect x="441.70" y="108.20" width="27.30" height="5.40" fill="#EFF3FF" fill-opacity="0.9"/>
<rect x="469.00" y="108.20" width="23.50" height="5.40" fill="#BDD7E7" fill-opacity="0.9"/>
<rect x="492.50" y="108.20" width="11.50" height="5.40" fill="#6BAED6" fill-opacity="0.9"/>
<rect x="504.00" y="108.20" width="10.80" height="5.40" fill="#3182BD" fill-opacity="0.9"/>
<line x1="279.80" y1="114.00" x2="514.80" y2="114.00" stroke="#444" stroke-width="1"/>
<line x1="357.06" y1="114.00" x2="357.06" y2="115.60" stroke="#4D4D4D" stroke-width="0.8"/>
<line x1="434.62" y1="114.00" x2="434.62" y2="115.60" stroke="#4D4D4D" stroke-width="0.8"/>
<line x1="512.18" y1="114.00" x2="512.18" y2="115.60" stroke="#4D4D4D" stroke-width="0.8"/>
<text x="265.80" y="127.50" font-size="16.5" font-weight="bold" text-anchor="start" fill="#000">e</text>
<text x="396.00" y="130.40" font-size="8.6" font-weight="bold" text-anchor="middle" fill="#000">ECM-receptor interaction (subtype 1 and subtype 3)</text>
<line x1="320.50" y1="132.90" x2="320.50" y2="200.00" stroke="#EBEBEB" stroke-width="0.5"/>
<line x1="358.80" y1="132.90" x2="358.80" y2="200.00" stroke="#EBEBEB" stroke-width="0.5"/>
<line x1="397.10" y1="132.90" x2="397.10" y2="200.00" stroke="#EBEBEB" stroke-width="0.5"/>
<line x1="435.40" y1="132.90" x2="435.40" y2="200.00" stroke="#EBEBEB" stroke-width="0.5"/>
<line x1="473.70" y1="132.90" x2="473.70" y2="200.00" stroke="#EBEBEB" stroke-width="0.5"/>
<line x1="512.00" y1="132.90" x2="512.00" y2="200.00" stroke="#EBEBEB" stroke-width="0.5"/>
<rect x="448.20" y="137.50" width="51.40" height="20.00" fill="#E3E3E3"/>
<text x="450.70" y="145.10" font-size="8.6" font-weight="bold" text-anchor="start" fill="#000"><tspan font-style="italic">P</tspan>: 0.9665</text>
<text x="450.70" y="155.60" font-size="8.6" font-weight="bold" text-anchor="start" fill="#000">FDR: 1</text>
<polyline points="282.60,160.40 285.10,162.10 285.90,158.00 287.50,158.40 288.10,151.50 289.80,146.60 291.60,148.00 293.40,143.90 295.10,144.50 296.30,143.10 298.10,144.20 300.40,142.10 302.20,141.20 302.80,139.80 304.50,137.20 306.90,138.40 310.40,136.80 313.90,138.80 317.50,139.50 320.40,137.20 322.80,137.60 328.10,140.00 333.90,142.40 338.60,143.30 343.00,145.40 352.80,151.80 364.50,160.00 376.30,166.80 385.70,171.20 388.10,171.50 401.00,178.80 407.50,182.90 410.40,183.50 412.20,182.40 415.70,183.80 419.80,186.10 424.50,187.10 429.80,190.00 431.00,187.60 436.30,189.40 438.60,191.20 441.60,189.40 444.50,191.50 446.30,191.20 450.40,193.50 452.20,192.90 454.50,190.60 458.60,192.90 461.00,194.70 464.50,194.10 466.30,193.30 468.10,194.50 469.20,193.50 471.00,194.90 473.70,189.10 486.30,197.30 487.10,194.50 489.80,195.90 491.00,192.90 495.10,195.60 496.30,192.10 501.60,195.30 502.80,190.60 504.50,191.40 505.70,185.30 511.60,189.40 512.80,180.40 514.50,181.20 514.90,160.40" fill="none" stroke="#383838" stroke-width="1.1" stroke-linejoin="round"/>
<line x1="282.60" y1="132.90" x2="282.60" y2="200.00" stroke="#333" stroke-width="1"/>
<line x1="282.60" y1="200.60" x2="282.60" y2="220.60" stroke="#333" stroke-width="1"/>
<line x1="280.80" y1="146.03" x2="282.60" y2="146.03" stroke="#333" stroke-width="0.9"/>
<text x="280.30" y="149.23" font-size="7.6" text-anchor="end" fill="#262626" stroke="#262626" stroke-width="0.22">0.1</text>
<line x1="280.80" y1="160.60" x2="282.60" y2="160.60" stroke="#333" stroke-width="0.9"/>
<text x="280.30" y="163.80" font-size="7.6" text-anchor="end" fill="#262626" stroke="#262626" stroke-width="0.22">0.0</text>
<line x1="280.80" y1="175.17" x2="282.60" y2="175.17" stroke="#333" stroke-width="0.9"/>
<text x="280.30" y="178.37" font-size="7.6" text-anchor="end" fill="#262626" stroke="#262626" stroke-width="0.22">−0.1</text>
<line x1="280.80" y1="189.74" x2="282.60" y2="189.74" stroke="#333" stroke-width="0.9"/>
<text x="280.30" y="192.94" font-size="7.6" text-anchor="end" fill="#262626" stroke="#262626" stroke-width="0.22">−0.2</text>
<rect x="284.45" y="200.60" width="1.5" height="19.60" fill="#000" fill-opacity="0.27"/>
<rect x="286.85" y="200.60" width="1.5" height="19.60" fill="#000" fill-opacity="0.68"/>
<rect x="288.35" y="200.60" width="1.5" height="19.60" fill="#000" fill-opacity="0.47"/>
<rect x="292.15" y="200.60" width="1.5" height="19.60" fill="#000" fill-opacity="0.68"/>
<rect x="294.75" y="200.60" width="1.5" height="19.60" fill="#000" fill-opacity="0.47"/>
<rect x="297.15" y="200.60" width="1.5" height="19.60" fill="#000" fill-opacity="0.27"/>
<rect x="299.45" y="200.60" width="1.5" height="19.60" fill="#000" fill-opacity="0.47"/>
<rect x="302.15" y="200.60" width="1.5" height="19.60" fill="#000" fill-opacity="0.68"/>
<rect x="303.25" y="200.60" width="1.5" height="19.60" fill="#000" fill-opacity="0.47"/>
<rect x="306.55" y="200.60" width="1.5" height="19.60" fill="#000" fill-opacity="0.27"/>
<rect x="308.35" y="200.60" width="1.5" height="19.60" fill="#000" fill-opacity="0.27"/>
<rect x="314.15" y="200.60" width="1.5" height="19.60" fill="#000" fill-opacity="0.47"/>
<rect x="316.55" y="200.60" width="1.5" height="19.60" fill="#000" fill-opacity="0.47"/>
<rect x="318.85" y="200.60" width="1.5" height="19.60" fill="#000" fill-opacity="0.68"/>
<rect x="320.65" y="200.60" width="1.5" height="19.60" fill="#000" fill-opacity="0.47"/>
<rect x="325.35" y="200.60" width="1.5" height="19.60" fill="#000" fill-opacity="0.47"/>
<rect x="329.45" y="200.60" width="1.5" height="19.60" fill="#000" fill-opacity="0.27"/>
<rect x="335.35" y="200.60" width="1.5" height="19.60" fill="#000" fill-opacity="0.47"/>
<rect x="337.75" y="200.60" width="1.5" height="19.60" fill="#000" fill-opacity="0.68"/>
<rect x="340.05" y="200.60" width="1.5" height="19.60" fill="#000" fill-opacity="0.27"/>
<rect x="341.05" y="200.60" width="1.5" height="19.60" fill="#000" fill-opacity="0.27"/>
<rect x="342.75" y="200.60" width="1.5" height="19.60" fill="#000" fill-opacity="0.27"/>
<rect x="347.45" y="200.60" width="1.5" height="19.60" fill="#000" fill-opacity="0.47"/>
<rect x="357.45" y="200.60" width="1.5" height="19.60" fill="#000" fill-opacity="0.68"/>
<rect x="364.55" y="200.60" width="1.5" height="19.60" fill="#000" fill-opacity="0.47"/>
<rect x="376.35" y="200.60" width="1.5" height="19.60" fill="#000" fill-opacity="0.47"/>
<rect x="386.35" y="200.60" width="1.5" height="19.60" fill="#000" fill-opacity="0.68"/>
<rect x="389.85" y="200.60" width="1.5" height="19.60" fill="#000" fill-opacity="0.27"/>
<rect x="395.75" y="200.60" width="1.5" height="19.60" fill="#000" fill-opacity="0.47"/>
<rect x="407.25" y="200.60" width="1.5" height="19.60" fill="#000" fill-opacity="0.27"/>
<rect x="409.05" y="200.60" width="1.5" height="19.60" fill="#000" fill-opacity="0.27"/>
<rect x="410.75" y="200.60" width="1.5" height="19.60" fill="#000" fill-opacity="0.68"/>
<rect x="413.75" y="200.60" width="1.5" height="19.60" fill="#000" fill-opacity="0.47"/>
<rect x="419.65" y="200.60" width="1.5" height="19.60" fill="#000" fill-opacity="0.27"/>
<rect x="421.35" y="200.60" width="1.5" height="19.60" fill="#000" fill-opacity="0.47"/>
<rect x="423.75" y="200.60" width="1.5" height="19.60" fill="#000" fill-opacity="0.27"/>
<rect x="429.65" y="200.60" width="1.5" height="19.60" fill="#000" fill-opacity="0.47"/>
<rect x="432.55" y="200.60" width="1.5" height="19.60" fill="#000" fill-opacity="0.27"/>
<rect x="437.85" y="200.60" width="1.5" height="19.60" fill="#000" fill-opacity="0.47"/>
<rect x="440.15" y="200.60" width="1.5" height="19.60" fill="#000" fill-opacity="0.47"/>
<rect x="445.45" y="200.60" width="1.5" height="19.60" fill="#000" fill-opacity="0.47"/>
<rect x="451.35" y="200.60" width="1.5" height="19.60" fill="#000" fill-opacity="0.47"/>
<rect x="453.15" y="200.60" width="1.5" height="19.60" fill="#000" fill-opacity="0.68"/>
<rect x="462.85" y="200.60" width="1.5" height="19.60" fill="#000" fill-opacity="0.47"/>
<rect x="464.65" y="200.60" width="1.5" height="19.60" fill="#000" fill-opacity="0.47"/>
<rect x="468.15" y="200.60" width="1.5" height="19.60" fill="#000" fill-opacity="0.47"/>
<rect x="471.75" y="200.60" width="1.5" height="19.60" fill="#000" fill-opacity="0.68"/>
<rect x="486.45" y="200.60" width="1.5" height="19.60" fill="#000" fill-opacity="0.47"/>
<rect x="489.95" y="200.60" width="1.5" height="19.60" fill="#000" fill-opacity="0.47"/>
<rect x="495.85" y="200.60" width="1.5" height="19.60" fill="#000" fill-opacity="0.47"/>
<rect x="501.75" y="200.60" width="1.5" height="19.60" fill="#000" fill-opacity="0.47"/>
<rect x="503.45" y="200.60" width="1.5" height="19.60" fill="#000" fill-opacity="0.47"/>
<rect x="510.55" y="200.60" width="1.5" height="19.60" fill="#000" fill-opacity="0.47"/>
<rect x="514.05" y="200.60" width="1.5" height="19.60" fill="#000" fill-opacity="0.27"/>
<rect x="282.60" y="214.50" width="45.10" height="5.70" fill="#DC3424" fill-opacity="0.9"/>
<rect x="327.70" y="214.50" width="35.70" height="5.70" fill="#FB6A4A" fill-opacity="0.9"/>
<rect x="363.40" y="214.50" width="22.80" height="5.70" fill="#FCAE91" fill-opacity="0.9"/>
<rect x="386.20" y="214.50" width="45.20" height="5.70" fill="#FEE5D9" fill-opacity="0.9"/>
<rect x="431.40" y="214.50" width="28.50" height="5.70" fill="#EFF3FF" fill-opacity="0.9"/>
<rect x="459.90" y="214.50" width="18.10" height="5.70" fill="#BDD7E7" fill-opacity="0.9"/>
<rect x="478.00" y="214.50" width="17.00" height="5.70" fill="#6BAED6" fill-opacity="0.9"/>
<rect x="495.00" y="214.50" width="17.00" height="5.70" fill="#3182BD" fill-opacity="0.9"/>
<rect x="512.00" y="214.50" width="3.00" height="5.70" fill="#08519C" fill-opacity="0.9"/>
<line x1="282.60" y1="220.60" x2="515.00" y2="220.60" stroke="#444" stroke-width="1"/>
<line x1="358.80" y1="220.60" x2="358.80" y2="222.20" stroke="#4D4D4D" stroke-width="0.8"/>
<line x1="435.40" y1="220.60" x2="435.40" y2="222.20" stroke="#4D4D4D" stroke-width="0.8"/>
<line x1="512.00" y1="220.60" x2="512.00" y2="222.20" stroke="#4D4D4D" stroke-width="0.8"/>
<text x="268.50" y="233.00" font-size="16.5" font-weight="bold" text-anchor="start" fill="#000">f</text>
<text x="394.60" y="237.30" font-size="8.6" font-weight="bold" text-anchor="middle" fill="#000">ECM-receptor interaction (subtype 2 and subtype 3)</text>
<line x1="320.80" y1="239.90" x2="320.80" y2="308.00" stroke="#EBEBEB" stroke-width="0.5"/>
<line x1="358.90" y1="239.90" x2="358.90" y2="308.00" stroke="#EBEBEB" stroke-width="0.5"/>
<line x1="397.00" y1="239.90" x2="397.00" y2="308.00" stroke="#EBEBEB" stroke-width="0.5"/>
<line x1="435.10" y1="239.90" x2="435.10" y2="308.00" stroke="#EBEBEB" stroke-width="0.5"/>
<line x1="473.20" y1="239.90" x2="473.20" y2="308.00" stroke="#EBEBEB" stroke-width="0.5"/>
<line x1="511.30" y1="239.90" x2="511.30" y2="308.00" stroke="#EBEBEB" stroke-width="0.5"/>
<rect x="446.70" y="246.40" width="51.70" height="20.00" fill="#E3E3E3"/>
<text x="449.20" y="254.00" font-size="8.6" font-weight="bold" text-anchor="start" fill="#000"><tspan font-style="italic">P</tspan>: 0.0057</text>
<text x="449.20" y="264.50" font-size="8.6" font-weight="bold" text-anchor="start" fill="#000">FDR: 0.1108</text>
<polyline points="283.00,243.70 292.80,249.10 294.40,246.80 298.00,249.80 299.60,245.90 303.50,248.20 305.30,249.10 307.60,248.20 309.90,249.80 319.00,254.40 325.80,255.50 335.00,258.20 346.30,262.30 357.70,268.00 369.10,272.60 380.50,278.30 398.00,287.60 407.40,292.90 409.80,293.30 415.60,295.30 420.40,297.60 422.70,297.60 433.30,302.40 435.10,301.20 440.40,304.10 445.10,300.80 446.80,300.40 450.90,302.70 452.70,301.50 456.80,304.10 458.00,301.70 460.50,300.40 465.60,303.60 466.90,297.80 468.80,298.50 471.40,294.00 473.90,292.10 475.80,293.00 479.60,290.20 485.40,294.00 486.60,289.60 488.60,290.50 492.40,285.10 498.10,288.30 499.40,285.10 500.60,287.00 501.90,282.60 503.80,283.80 505.70,263.50 507.00,260.30 508.90,261.60 510.80,250.70 514.50,252.60 514.80,243.10" fill="none" stroke="#F0434A" stroke-width="1.1" stroke-linejoin="round"/>
<line x1="282.40" y1="239.90" x2="282.40" y2="308.00" stroke="#333" stroke-width="1"/>
<line x1="282.40" y1="308.50" x2="282.40" y2="327.60" stroke="#333" stroke-width="1"/>
<line x1="280.60" y1="243.40" x2="282.40" y2="243.40" stroke="#333" stroke-width="0.9"/>
<text x="280.10" y="246.60" font-size="7.6" text-anchor="end" fill="#262626" stroke="#262626" stroke-width="0.22">0.0</text>
<line x1="280.60" y1="255.78" x2="282.40" y2="255.78" stroke="#333" stroke-width="0.9"/>
<text x="280.10" y="258.98" font-size="7.6" text-anchor="end" fill="#262626" stroke="#262626" stroke-width="0.22">−0.1</text>
<line x1="280.60" y1="268.16" x2="282.40" y2="268.16" stroke="#333" stroke-width="0.9"/>
<text x="280.10" y="271.36" font-size="7.6" text-anchor="end" fill="#262626" stroke="#262626" stroke-width="0.22">−0.2</text>
<line x1="280.60" y1="280.54" x2="282.40" y2="280.54" stroke="#333" stroke-width="0.9"/>
<text x="280.10" y="283.74" font-size="7.6" text-anchor="end" fill="#262626" stroke="#262626" stroke-width="0.22">−0.3</text>
<line x1="280.60" y1="292.92" x2="282.40" y2="292.92" stroke="#333" stroke-width="0.9"/>
<text x="280.10" y="296.12" font-size="7.6" text-anchor="end" fill="#262626" stroke="#262626" stroke-width="0.22">−0.4</text>
<line x1="280.60" y1="305.30" x2="282.40" y2="305.30" stroke="#333" stroke-width="0.9"/>
<text x="280.10" y="308.50" font-size="7.6" text-anchor="end" fill="#262626" stroke="#262626" stroke-width="0.22">−0.5</text>
<rect x="293.05" y="308.50" width="1.5" height="18.70" fill="#000" fill-opacity="0.47"/>
<rect x="298.35" y="308.50" width="1.5" height="18.70" fill="#000" fill-opacity="0.68"/>
<rect x="304.75" y="308.50" width="1.5" height="18.70" fill="#000" fill-opacity="0.47"/>
<rect x="307.75" y="308.50" width="1.5" height="18.70" fill="#000" fill-opacity="0.47"/>
<rect x="318.85" y="308.50" width="1.5" height="18.70" fill="#000" fill-opacity="0.47"/>
<rect x="322.45" y="308.50" width="1.5" height="18.70" fill="#000" fill-opacity="0.47"/>
<rect x="324.15" y="308.50" width="1.5" height="18.70" fill="#000" fill-opacity="0.27"/>
<rect x="330.65" y="308.50" width="1.5" height="18.70" fill="#000" fill-opacity="0.47"/>
<rect x="333.65" y="308.50" width="1.5" height="18.70" fill="#000" fill-opacity="0.47"/>
<rect x="337.15" y="308.50" width="1.5" height="18.70" fill="#000" fill-opacity="0.47"/>
<rect x="339.45" y="308.50" width="1.5" height="18.70" fill="#000" fill-opacity="0.27"/>
<rect x="344.55" y="308.50" width="1.5" height="18.70" fill="#000" fill-opacity="0.47"/>
<rect x="352.15" y="308.50" width="1.5" height="18.70" fill="#000" fill-opacity="0.47"/>
<rect x="358.05" y="308.50" width="1.5" height="18.70" fill="#000" fill-opacity="0.47"/>
<rect x="360.45" y="308.50" width="1.5" height="18.70" fill="#000" fill-opacity="0.47"/>
<rect x="362.15" y="308.50" width="1.5" height="18.70" fill="#000" fill-opacity="0.27"/>
<rect x="364.55" y="308.50" width="1.5" height="18.70" fill="#000" fill-opacity="0.68"/>
<rect x="366.85" y="308.50" width="1.5" height="18.70" fill="#000" fill-opacity="0.68"/>
<rect x="368.65" y="308.50" width="1.5" height="18.70" fill="#000" fill-opacity="0.47"/>
<rect x="371.65" y="308.50" width="1.5" height="18.70" fill="#000" fill-opacity="0.47"/>
<rect x="374.55" y="308.50" width="1.5" height="18.70" fill="#000" fill-opacity="0.47"/>
<rect x="388.65" y="308.50" width="1.5" height="18.70" fill="#000" fill-opacity="0.27"/>
<rect x="392.75" y="308.50" width="1.5" height="18.70" fill="#000" fill-opacity="0.68"/>
<rect x="396.85" y="308.50" width="1.5" height="18.70" fill="#000" fill-opacity="0.47"/>
<rect x="407.85" y="308.50" width="1.5" height="18.70" fill="#000" fill-opacity="0.68"/>
<rect x="413.75" y="308.50" width="1.5" height="18.70" fill="#000" fill-opacity="0.47"/>
<rect x="420.15" y="308.50" width="1.5" height="18.70" fill="#000" fill-opacity="0.47"/>
<rect x="425.45" y="308.50" width="1.5" height="18.70" fill="#000" fill-opacity="0.27"/>
<rect x="433.75" y="308.50" width="1.5" height="18.70" fill="#000" fill-opacity="0.68"/>
<rect x="440.15" y="308.50" width="1.5" height="18.70" fill="#000" fill-opacity="0.47"/>
<rect x="442.55" y="308.50" width="1.5" height="18.70" fill="#000" fill-opacity="0.88"/>
<rect x="444.85" y="308.50" width="1.5" height="18.70" fill="#000" fill-opacity="0.47"/>
<rect x="451.35" y="308.50" width="1.5" height="18.70" fill="#000" fill-opacity="0.47"/>
<rect x="457.25" y="308.50" width="1.5" height="18.70" fill="#000" fill-opacity="0.47"/>
<rect x="457.05" y="308.50" width="1.5" height="18.70" fill="#000" fill-opacity="0.47"/>
<rect x="459.35" y="308.50" width="1.5" height="18.70" fill="#000" fill-opacity="0.47"/>
<rect x="465.85" y="308.50" width="1.5" height="18.70" fill="#000" fill-opacity="0.68"/>
<rect x="468.15" y="308.50" width="1.5" height="18.70" fill="#000" fill-opacity="0.47"/>
<rect x="469.95" y="308.50" width="1.5" height="18.70" fill="#000" fill-opacity="0.47"/>
<rect x="472.85" y="308.50" width="1.5" height="18.70" fill="#000" fill-opacity="0.47"/>
<rect x="477.05" y="308.50" width="1.5" height="18.70" fill="#000" fill-opacity="0.27"/>
<rect x="484.65" y="308.50" width="1.5" height="18.70" fill="#000" fill-opacity="0.47"/>
<rect x="488.15" y="308.50" width="1.5" height="18.70" fill="#000" fill-opacity="0.68"/>
<rect x="490.55" y="308.50" width="1.5" height="18.70" fill="#000" fill-opacity="0.27"/>
<rect x="498.15" y="308.50" width="1.5" height="18.70" fill="#000" fill-opacity="0.27"/>
<rect x="500.55" y="308.50" width="1.5" height="18.70" fill="#000" fill-opacity="0.47"/>
<rect x="504.05" y="308.50" width="1.5" height="18.70" fill="#000" fill-opacity="0.88"/>
<rect x="509.35" y="308.50" width="1.5" height="18.70" fill="#000" fill-opacity="0.47"/>
<rect x="514.05" y="308.50" width="1.5" height="18.70" fill="#000" fill-opacity="0.27"/>
<rect x="282.40" y="321.40" width="16.60" height="5.80" fill="#DC3424" fill-opacity="0.9"/>
<rect x="299.00" y="321.40" width="28.00" height="5.80" fill="#FB6A4A" fill-opacity="0.9"/>
<rect x="327.00" y="321.40" width="18.20" height="5.80" fill="#FCAE91" fill-opacity="0.9"/>
<rect x="345.20" y="321.40" width="17.10" height="5.80" fill="#FEE5D9" fill-opacity="0.9"/>
<rect x="362.30" y="321.40" width="26.20" height="5.80" fill="#EFF3FF" fill-opacity="0.9"/>
<rect x="388.50" y="321.40" width="42.90" height="5.80" fill="#BDD7E7" fill-opacity="0.9"/>
<rect x="431.40" y="321.40" width="26.20" height="5.80" fill="#6BAED6" fill-opacity="0.9"/>
<rect x="457.60" y="321.40" width="46.30" height="5.80" fill="#3182BD" fill-opacity="0.9"/>
<rect x="503.90" y="321.40" width="10.80" height="5.80" fill="#08519C" fill-opacity="0.9"/>
<line x1="282.40" y1="327.60" x2="514.70" y2="327.60" stroke="#444" stroke-width="1"/>
<line x1="358.90" y1="327.60" x2="358.90" y2="329.20" stroke="#4D4D4D" stroke-width="0.8"/>
<line x1="435.10" y1="327.60" x2="435.10" y2="329.20" stroke="#4D4D4D" stroke-width="0.8"/>
<line x1="511.30" y1="327.60" x2="511.30" y2="329.20" stroke="#4D4D4D" stroke-width="0.8"/>
<text x="357.90" y="338.20" font-size="9.5" text-anchor="middle" fill="#333" stroke="#333" stroke-width="0.15">10,000</text>
<text x="433.60" y="338.20" font-size="9.5" text-anchor="middle" fill="#333" stroke="#333" stroke-width="0.15">20,000</text>
<text x="508.20" y="338.20" font-size="9.5" text-anchor="middle" fill="#333" stroke="#333" stroke-width="0.15">30,000</text>
<text x="10.50" y="353.10" font-size="16.5" font-weight="bold" text-anchor="start" fill="#000">g</text>
<line x1="41.30" y1="355.20" x2="41.30" y2="530.20" stroke="#222" stroke-width="1"/>
<line x1="40.80" y1="530.20" x2="173.20" y2="530.20" stroke="#222" stroke-width="1"/>
<line x1="39.00" y1="356.00" x2="41.30" y2="356.00" stroke="#333" stroke-width="0.8"/>
<text x="36.30" y="359.00" font-size="8.5" text-anchor="end" fill="#222" stroke="#222" stroke-width="0.15">1.25</text>
<line x1="39.00" y1="390.80" x2="41.30" y2="390.80" stroke="#333" stroke-width="0.8"/>
<text x="36.30" y="393.80" font-size="8.5" text-anchor="end" fill="#222" stroke="#222" stroke-width="0.15">1.00</text>
<line x1="39.00" y1="425.60" x2="41.30" y2="425.60" stroke="#333" stroke-width="0.8"/>
<text x="36.30" y="428.60" font-size="8.5" text-anchor="end" fill="#222" stroke="#222" stroke-width="0.15">0.75</text>
<line x1="39.00" y1="460.60" x2="41.30" y2="460.60" stroke="#333" stroke-width="0.8"/>
<text x="36.30" y="463.60" font-size="8.5" text-anchor="end" fill="#222" stroke="#222" stroke-width="0.15">0.50</text>
<line x1="39.00" y1="495.60" x2="41.30" y2="495.60" stroke="#333" stroke-width="0.8"/>
<text x="36.30" y="498.60" font-size="8.5" text-anchor="end" fill="#222" stroke="#222" stroke-width="0.15">0.25</text>
<text x="16.50" y="442.30" font-size="8.6" font-weight="bold" text-anchor="middle" fill="#000" transform="rotate(-90 16.5 442.3)">Fibroblasts</text>
<text x="49.70" y="363.60" font-size="8.6" text-anchor="start" fill="#000">Anova, <tspan font-style="italic">p</tspan> = 0.0000051</text>
<line x1="66.30" y1="433.30" x2="66.30" y2="448.30" stroke="#222" stroke-width="1"/>
<line x1="66.30" y1="464.70" x2="66.30" y2="485.60" stroke="#222" stroke-width="1"/>
<rect x="51.55" y="448.30" width="29.50" height="16.40" fill="#3B5E99" stroke="#222" stroke-width="0.9"/>
<line x1="51.55" y1="457.00" x2="81.05" y2="457.00" stroke="#000" stroke-width="1.6"/>
<circle cx="66.30" cy="414.20" r="1.75" fill="#000"/>
<circle cx="66.30" cy="421.60" r="1.75" fill="#000"/>
<circle cx="66.30" cy="493.60" r="1.75" fill="#000"/>
<circle cx="66.30" cy="495.60" r="1.75" fill="#000"/>
<line x1="66.30" y1="530.20" x2="66.30" y2="532.50" stroke="#333" stroke-width="0.8"/>
<text x="66.30" y="541.30" font-size="7.5" text-anchor="middle" fill="#1a1a1a">Subtype 1</text>
<line x1="107.30" y1="438.50" x2="107.30" y2="462.00" stroke="#222" stroke-width="1"/>
<line x1="107.30" y1="485.90" x2="107.30" y2="510.50" stroke="#222" stroke-width="1"/>
<rect x="92.55" y="462.00" width="29.50" height="23.90" fill="#DC2028" stroke="#222" stroke-width="0.9"/>
<line x1="92.55" y1="475.90" x2="122.05" y2="475.90" stroke="#000" stroke-width="1.6"/>
<line x1="107.30" y1="530.20" x2="107.30" y2="532.50" stroke="#333" stroke-width="0.8"/>
<text x="107.30" y="541.30" font-size="7.5" text-anchor="middle" fill="#1a1a1a">Subtype 2</text>
<line x1="149.00" y1="423.10" x2="149.00" y2="455.10" stroke="#222" stroke-width="1"/>
<line x1="149.00" y1="477.30" x2="149.00" y2="507.20" stroke="#222" stroke-width="1"/>
<rect x="134.25" y="455.10" width="29.50" height="22.20" fill="#7AA3B8" stroke="#222" stroke-width="0.9"/>
<line x1="134.25" y1="469.20" x2="163.75" y2="469.20" stroke="#000" stroke-width="1.6"/>
<circle cx="149.00" cy="406.30" r="1.75" fill="#000"/>
<circle cx="149.00" cy="514.10" r="1.75" fill="#000"/>
<circle cx="149.00" cy="522.60" r="1.75" fill="#000"/>
<line x1="149.00" y1="530.20" x2="149.00" y2="532.50" stroke="#333" stroke-width="0.8"/>
<text x="149.00" y="541.30" font-size="7.5" text-anchor="middle" fill="#1a1a1a">Subtype 3</text>
<polyline points="107.30,375.90 107.30,372.60 149.00,372.60 149.00,375.90" fill="none" stroke="#333" stroke-width="0.7"/>
<text x="127.20" y="370.80" font-size="7.6" text-anchor="middle" fill="#1a1a1a">0.011</text>
<polyline points="66.30,390.00 66.30,386.70 149.00,386.70 149.00,390.00" fill="none" stroke="#333" stroke-width="0.7"/>
<text x="106.20" y="384.90" font-size="7.6" text-anchor="middle" fill="#1a1a1a">0.014</text>
<polyline points="66.30,404.10 66.30,400.80 107.30,400.80 107.30,404.10" fill="none" stroke="#333" stroke-width="0.7"/>
<text x="88.70" y="397.70" font-size="7.6" text-anchor="middle" fill="#1a1a1a">8.1×10<tspan dy="-3" font-size="5">-8</tspan></text>
<text x="178.00" y="356.50" font-size="16.5" font-weight="bold" text-anchor="start" fill="#000">h</text>
<line x1="208.00" y1="355.40" x2="208.00" y2="530.10" stroke="#222" stroke-width="1"/>
<line x1="207.50" y1="530.10" x2="344.70" y2="530.10" stroke="#222" stroke-width="1"/>
<line x1="205.70" y1="408.40" x2="208.00" y2="408.40" stroke="#333" stroke-width="0.8"/>
<text x="203.00" y="411.40" font-size="8.5" text-anchor="end" fill="#222" stroke="#222" stroke-width="0.15">0.2</text>
<line x1="205.70" y1="465.30" x2="208.00" y2="465.30" stroke="#333" stroke-width="0.8"/>
<text x="203.00" y="468.30" font-size="8.5" text-anchor="end" fill="#222" stroke="#222" stroke-width="0.15">0.1</text>
<line x1="205.70" y1="522.40" x2="208.00" y2="522.40" stroke="#333" stroke-width="0.8"/>
<text x="203.00" y="525.40" font-size="8.5" text-anchor="end" fill="#222" stroke="#222" stroke-width="0.15">0.0</text>
<text x="187.20" y="443.00" font-size="8.6" font-weight="bold" text-anchor="middle" fill="#000" transform="rotate(-90 187.2 443)">Proliferating T cells</text>
<text x="218.30" y="363.60" font-size="8.6" text-anchor="start" fill="#000">Anova, <tspan font-style="italic">p</tspan> = 0.000012</text>
<line x1="233.40" y1="471.20" x2="233.40" y2="493.40" stroke="#222" stroke-width="1"/>
<line x1="233.40" y1="511.70" x2="233.40" y2="522.50" stroke="#222" stroke-width="1"/>
<rect x="218.30" y="493.40" width="30.20" height="18.30" fill="#3B5E99" stroke="#222" stroke-width="0.9"/>
<line x1="218.30" y1="503.90" x2="248.50" y2="503.90" stroke="#000" stroke-width="1.6"/>
<line x1="233.40" y1="530.10" x2="233.40" y2="532.40" stroke="#333" stroke-width="0.8"/>
<text x="233.40" y="541.60" font-size="7.5" text-anchor="middle" fill="#1a1a1a">Subtype 1</text>
<line x1="276.50" y1="441.00" x2="276.50" y2="473.30" stroke="#222" stroke-width="1"/>
<line x1="276.50" y1="497.50" x2="276.50" y2="522.50" stroke="#222" stroke-width="1"/>
<rect x="261.40" y="473.30" width="30.20" height="24.20" fill="#DC2028" stroke="#222" stroke-width="0.9"/>
<line x1="261.40" y1="487.00" x2="291.60" y2="487.00" stroke="#000" stroke-width="1.6"/>
<circle cx="276.50" cy="409.20" r="1.75" fill="#000"/>
<circle cx="276.50" cy="422.00" r="1.75" fill="#000"/>
<circle cx="276.50" cy="425.10" r="1.75" fill="#000"/>
<line x1="276.50" y1="530.10" x2="276.50" y2="532.40" stroke="#333" stroke-width="0.8"/>
<text x="276.50" y="541.60" font-size="7.5" text-anchor="middle" fill="#1a1a1a">Subtype 2</text>
<line x1="319.50" y1="423.10" x2="319.50" y2="470.60" stroke="#222" stroke-width="1"/>
<line x1="319.50" y1="508.50" x2="319.50" y2="522.50" stroke="#222" stroke-width="1"/>
<rect x="304.40" y="470.60" width="30.20" height="37.90" fill="#7AA3B8" stroke="#222" stroke-width="0.9"/>
<line x1="304.40" y1="496.90" x2="334.60" y2="496.90" stroke="#000" stroke-width="1.6"/>
<circle cx="319.50" cy="408.00" r="1.75" fill="#000"/>
<circle cx="319.50" cy="412.30" r="1.75" fill="#000"/>
<line x1="319.50" y1="530.10" x2="319.50" y2="532.40" stroke="#333" stroke-width="0.8"/>
<text x="319.50" y="541.60" font-size="7.5" text-anchor="middle" fill="#1a1a1a">Subtype 3</text>
<polyline points="276.50,378.50 276.50,375.40 319.50,375.40 319.50,378.50" fill="none" stroke="#333" stroke-width="0.7"/>
<text x="297.30" y="373.30" font-size="7.6" text-anchor="middle" fill="#1a1a1a">0.27</text>
<polyline points="233.40,391.80 233.40,388.70 319.50,388.70 319.50,391.80" fill="none" stroke="#333" stroke-width="0.7"/>
<text x="274.20" y="386.90" font-size="7.6" text-anchor="middle" fill="#1a1a1a">0.00015</text>
<polyline points="233.40,405.40 233.40,402.30 276.50,402.30 276.50,405.40" fill="none" stroke="#333" stroke-width="0.7"/>
<text x="255.00" y="400.30" font-size="7.6" text-anchor="middle" fill="#1a1a1a">4.6×10<tspan dy="-3" font-size="5">-8</tspan></text>
<text x="348.70" y="356.50" font-size="16.5" font-weight="bold" text-anchor="start" fill="#000">i</text>
<line x1="379.10" y1="355.40" x2="379.10" y2="530.00" stroke="#222" stroke-width="1"/>
<line x1="378.60" y1="530.00" x2="516.60" y2="530.00" stroke="#222" stroke-width="1"/>
<line x1="376.80" y1="362.60" x2="379.10" y2="362.60" stroke="#333" stroke-width="0.8"/>
<text x="374.10" y="365.60" font-size="8.5" text-anchor="end" fill="#222" stroke="#222" stroke-width="0.15">0.6</text>
<line x1="376.80" y1="419.50" x2="379.10" y2="419.50" stroke="#333" stroke-width="0.8"/>
<text x="374.10" y="422.50" font-size="8.5" text-anchor="end" fill="#222" stroke="#222" stroke-width="0.15">0.4</text>
<line x1="376.80" y1="477.00" x2="379.10" y2="477.00" stroke="#333" stroke-width="0.8"/>
<text x="374.10" y="480.00" font-size="8.5" text-anchor="end" fill="#222" stroke="#222" stroke-width="0.15">0.2</text>
<text x="358.70" y="443.40" font-size="8.6" font-weight="bold" text-anchor="middle" fill="#000" transform="rotate(-90 358.7 443.4)">Macrophages</text>
<text x="389.90" y="363.00" font-size="8.6" text-anchor="start" fill="#000">Anova, <tspan font-style="italic">p</tspan> = 0.011</text>
<line x1="405.10" y1="441.00" x2="405.10" y2="470.00" stroke="#222" stroke-width="1"/>
<line x1="405.10" y1="500.90" x2="405.10" y2="520.40" stroke="#222" stroke-width="1"/>
<rect x="389.95" y="470.00" width="30.30" height="30.90" fill="#3B5E99" stroke="#222" stroke-width="0.9"/>
<line x1="389.95" y1="489.20" x2="420.25" y2="489.20" stroke="#000" stroke-width="1.6"/>
<line x1="405.10" y1="530.00" x2="405.10" y2="532.30" stroke="#333" stroke-width="0.8"/>
<text x="405.10" y="541.70" font-size="7.5" text-anchor="middle" fill="#1a1a1a">Subtype 1</text>
<line x1="448.00" y1="423.10" x2="448.00" y2="462.30" stroke="#222" stroke-width="1"/>
<line x1="448.00" y1="490.40" x2="448.00" y2="514.80" stroke="#222" stroke-width="1"/>
<rect x="433.00" y="462.30" width="30.00" height="28.10" fill="#DC2028" stroke="#222" stroke-width="0.9"/>
<line x1="433.00" y1="473.80" x2="463.00" y2="473.80" stroke="#000" stroke-width="1.6"/>
<circle cx="448.00" cy="416.80" r="1.75" fill="#000"/>
<line x1="448.00" y1="530.00" x2="448.00" y2="532.30" stroke="#333" stroke-width="0.8"/>
<text x="448.00" y="541.70" font-size="7.5" text-anchor="middle" fill="#1a1a1a">Subtype 2</text>
<line x1="490.60" y1="432.80" x2="490.60" y2="467.40" stroke="#222" stroke-width="1"/>
<line x1="490.60" y1="501.60" x2="490.60" y2="522.30" stroke="#222" stroke-width="1"/>
<rect x="475.55" y="467.40" width="30.10" height="34.20" fill="#7AA3B8" stroke="#222" stroke-width="0.9"/>
<line x1="475.55" y1="484.50" x2="505.65" y2="484.50" stroke="#000" stroke-width="1.6"/>
<circle cx="490.60" cy="409.70" r="1.75" fill="#000"/>
<line x1="490.60" y1="530.00" x2="490.60" y2="532.30" stroke="#333" stroke-width="0.8"/>
<text x="490.60" y="541.70" font-size="7.5" text-anchor="middle" fill="#1a1a1a">Subtype 3</text>
<polyline points="448.00,380.20 448.00,377.10 490.60,377.10 490.60,380.20" fill="none" stroke="#333" stroke-width="0.7"/>
<text x="468.50" y="375.10" font-size="7.6" text-anchor="middle" fill="#1a1a1a">0.027</text>
<polyline points="405.10,393.80 405.10,390.70 490.60,390.70 490.60,393.80" fill="none" stroke="#333" stroke-width="0.7"/>
<text x="446.70" y="388.70" font-size="7.6" text-anchor="middle" fill="#1a1a1a">0.49</text>
<polyline points="405.10,407.10 405.10,404.00 448.00,404.00 448.00,407.10" fill="none" stroke="#333" stroke-width="0.7"/>
<text x="425.00" y="402.20" font-size="7.6" text-anchor="middle" fill="#1a1a1a">0.0038</text>
</svg></body></html>
